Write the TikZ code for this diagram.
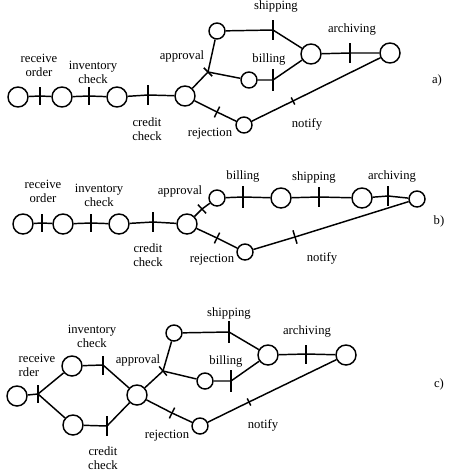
\documentclass[tikz,border=0pt]{standalone}
\usepackage{fontspec}
\setmainfont{Liberation Serif}
\usetikzlibrary{automata, positioning}

\begin{document}
\begin{tikzpicture}[x=0.03cm, y=-0.03cm, line width=1.25pt,
        every state/.style={draw, line width=1.25pt, inner sep=0pt},
        big/.style={state, minimum size=0.6cm},
        small/.style={state, minimum size=0.48cm},
        bar/.style={rectangle, fill=black, inner sep=0pt,
                    minimum width=1.25pt, minimum height=#1*0.03cm},
        bar/.default=18,
        lbl/.style={font=\fontsize{10.8}{11.8}\selectfont, align=center, inner sep=0pt}]
        \useasboundingbox (0,0) rectangle (474,474);

        % a) -- Add the places
        \node[big]   (a1) at (18,97)  {};
        \node[big]   (a2) at (62,97)  {};
        \node[big]   (a3) at (117,97) {};
        \node[big]   (a4) at (185,96) {};
        \node[small] (a5) at (217,31) {};
        \node[small] (a6) at (249,80) {};
        \node[big]   (a7) at (311,54) {};
        \node[big]   (a8) at (390,53) {};
        \node[small] (a9) at (244,125) {};

        % a) -- Add the transitions
        \node[bar]            (ta1) at (40,96)  {};
        \node[bar]            (ta2) at (89,96)  {};
        \node[bar=20]         (ta3) at (148,95) {};
        \node[bar=12, rotate=45]  (ta4) at (208,72) {};
        \node[bar=20]         (ta5) at (273,30) {};
        \node[bar=22]         (ta6) at (273,80) {};
        \node[bar=20]         (ta7) at (350,53) {};
        \node[bar=12, rotate=-26] (ta8) at (217,112) {};
        \node[bar=8, rotate=26]   (ta9) at (293,101) {};

        % a) -- Connect them
        \draw (a1) -- (ta1.center) -- (a2) -- (ta2.center) -- (a3)
              -- (ta3.center) -- (a4) -- (ta4.center);
        \draw (ta4.center) -- (a5) -- (ta5.center) -- (a7);
        \draw (ta4.center) -- (a6) -- (ta6.center) -- (a7);
        \draw (a7) -- (ta7.center) -- (a8);
        \draw (a4) -- (ta8.center) -- (a9) -- (ta9.center) -- (a8);

        % a) -- Labels
        \node[lbl] (la1) at (39,65)    {receive\\order};
        \node[lbl] (la2) at (93,72)    {inventory\\check};
        \node[lbl] (la3) at (147,129.5) {credit\\check};
        \node[lbl] (la4) at (182,56)   {approval};
        \node[lbl] (la5) at (210,134)  {rejection};
        \node[lbl] (la6) at (276,6)    {shipping};
        \node[lbl] (la7) at (269,59)   {billing};
        \node[lbl] (la8) at (352,29)   {archiving};
        \node[lbl] (la9) at (307,124)  {notify};
        \node[lbl] (ca)  at (437,80)   {a)};

        % b) -- Add the places
        \node[big]   (b1) at (23,224)  {};
        \node[big]   (b2) at (63,224)  {};
        \node[big]   (b3) at (119,224) {};
        \node[big]   (b4) at (187,224) {};
        \node[small] (b5) at (217,198) {};
        \node[big]   (b6) at (281,198) {};
        \node[big]   (b7) at (362,198) {};
        \node[small] (b8) at (417,199) {};
        \node[small] (b9) at (245,252) {};

        % b) -- Add the transitions
        \node[bar]            (tb1) at (42,223)  {};
        \node[bar]            (tb2) at (91,223)  {};
        \node[bar=20]         (tb3) at (153,222) {};
        \node[bar=12, rotate=43]  (tb4) at (202,209) {};
        \node[bar=22]         (tb5) at (243,197) {};
        \node[bar=20]         (tb6) at (319,197) {};
        \node[bar=20]         (tb7) at (388,196) {};
        \node[bar=12, rotate=-26] (tb8) at (217,238) {};
        \node[bar=14, rotate=17]  (tb9) at (295,237) {};

        % b) -- Connect them
        \draw (b1) -- (tb1.center) -- (b2) -- (tb2.center) -- (b3)
              -- (tb3.center) -- (b4) -- (tb4.center) -- (b5)
              -- (tb5.center) -- (b6) -- (tb6.center) -- (b7)
              -- (tb7.center) -- (b8);
        \draw (b4) -- (tb8.center) -- (b9) -- (tb9.center) -- (b8);

        % b) -- Labels
        \node[lbl] (lb1) at (43,191)    {receive\\order};
        \node[lbl] (lb2) at (99,195)    {inventory\\check};
        \node[lbl] (lb3) at (148,255.5) {credit\\check};
        \node[lbl] (lb4) at (180,191)   {approval};
        \node[lbl] (lb5) at (212,260)   {rejection};
        \node[lbl] (lb6) at (243,176)   {billing};
        \node[lbl] (lb7) at (314,177)   {shipping};
        \node[lbl] (lb8) at (392,176)   {archiving};
        \node[lbl] (lb9) at (322,258)   {notify};
        \node[lbl] (cb)  at (439,221)   {b)};

        % c) -- Add the places
        \node[big]   (c1)  at (17,396)  {};
        \node[big]   (c2u) at (72,366)  {};
        \node[big]   (c2d) at (73,425)  {};
        \node[big]   (c3)  at (137,395) {};
        \node[small] (c5)  at (174,333) {};
        \node[small] (c6)  at (205,381) {};
        \node[big]   (c7)  at (268,355) {};
        \node[big]   (c8)  at (346,355) {};
        \node[small] (c9)  at (200,426) {};

        % c) -- Add the transitions
        \node[bar]            (tc1) at (38,394)  {};
        \node[bar=19]         (tc2) at (103,365) {};
        \node[bar=20]         (tc3) at (107,426) {};
        \node[bar=12, rotate=40]  (tc4) at (163,371) {};
        \node[bar=22]         (tc5) at (229,332) {};
        \node[bar=22]         (tc6) at (231,381) {};
        \node[bar=19]         (tc7) at (306,354) {};
        \node[bar=12, rotate=-26] (tc8) at (172,413) {};
        \node[bar=8, rotate=26]   (tc9) at (249,402) {};

        % c) -- Connect them
        \draw (c1) -- (tc1.center);
        \draw (tc1.center) -- (c2u) -- (tc2.center) -- (c3);
        \draw (tc1.center) -- (c2d) -- (tc3.center) -- (c3);
        \draw (c3) -- (tc4.center);
        \draw (tc4.center) -- (c5) -- (tc5.center) -- (c7);
        \draw (tc4.center) -- (c6) -- (tc6.center) -- (c7);
        \draw (c7) -- (tc7.center) -- (c8);
        \draw (c3) -- (tc8.center) -- (c9) -- (tc9.center) -- (c8);

        % c) -- Labels
        \node[lbl, anchor=west, align=left] (lc1) at (18,365) {receive\\rder};
        \node[lbl] (lc2) at (92,336.5)  {inventory\\check};
        \node[lbl] (lc3) at (103,458.5) {credit\\check};
        \node[lbl] (lc4) at (138,360)   {approval};
        \node[lbl] (lc5) at (167,436)   {rejection};
        \node[lbl] (lc6) at (229,313)   {shipping};
        \node[lbl] (lc7) at (226,361)   {billing};
        \node[lbl] (lc8) at (307,331)   {archiving};
        \node[lbl] (lc9) at (263,425)   {notify};
        \node[lbl] (cc)  at (439,384)   {c)};
\end{tikzpicture}
\end{document}
